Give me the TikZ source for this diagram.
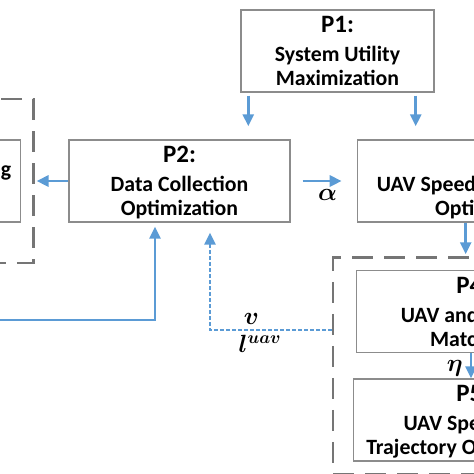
\documentclass[tikz,border=0pt]{standalone}
\usepackage{amsmath}
\usepackage{fontspec}
\setmainfont{Carlito}
\usetikzlibrary{arrows.meta, positioning, fit}

\definecolor{flowblue}{HTML}{5B9BD5}
\definecolor{boxgray}{HTML}{8C8C8C}
\definecolor{groupgray}{HTML}{757575}

\begin{document}
\begin{tikzpicture}[
            x = 1pt, y = -1pt, % pixel-like coordinates
            > = {Triangle[length=12pt, width=11pt]}, % arrow head style
            node distance = 48pt,
            line join = miter
        ]

        \tikzstyle{probbox}=[
            draw = boxgray,
            line width = 1.4pt,
            fill = white,
            align = center,
            minimum height = 82pt,
            text depth = 0pt,
            inner sep = 0pt,
            font = \fontsize{21.8}{24}\selectfont\bfseries
        ]
        \tikzstyle{dashgroup}=[
            draw = groupgray,
            line width = 2.5pt,
            dash pattern = on 21pt off 11pt,
            inner sep = 0pt
        ]
        \tikzstyle{flow}=[->, draw = flowblue, line width = 2.7pt]
        \tikzstyle{fbflow}=[flow, dash pattern = on 3.5pt off 2.5pt]
        \tikzstyle{varlabel}=[font = \fontsize{24}{24}\selectfont, inner sep = 2pt]

        \newcommand{\ptitle}[1]{{\fontsize{25}{25}\selectfont #1}\\[5pt]}

        % problem boxes
        \useasboundingbox (0,0) rectangle (474,474);
        \node[probbox, minimum width = 221pt] (P2) at (179.5,181)
            {\ptitle{P2:}Data Collection\\Optimization};
        \node[probbox, minimum width = 183pt] (L) [left = 47pt of P2]
            {Sensor Scheduling\\Optimization};
        \node[probbox, minimum width = 273pt] (P3) [right = 66pt of P2]
            {\ptitle{P3:}UAV Speed and Trajectory\\Optimization};
        \node[probbox, minimum width = 193pt] (P1) at (337.5,51)
            {\ptitle{P1:}System Utility\\Maximization};
        \node[probbox, minimum width = 232pt, anchor = north west] (P4) at (356,270)
            {\ptitle{P4:}UAV and Sensor\\Matching};
        \node[probbox, minimum width = 238pt] (P5) [below = 25pt of P4]
            {\ptitle{P5:}UAV Speed and\\Trajectory Optimization};

        % dashed groups
        \node[dashgroup, fit = (L), inner xsep = 12pt, inner ysep = 40.5pt] (G1) {};
        \node[dashgroup, fit = (P4) (P5), inner xsep = 20pt, inner ysep = 12.5pt] (G2) {};

        \coordinate (fin) at (-10,320);
        \coordinate (turn) at (155,320);
        \coordinate (vin) at (210,330);

        % connectors
        \draw[flow, shorten < = 3pt, shorten > = 13pt]
            ([xshift=8pt]P1.south west) -- ([xshift=8pt]P1.south west |- P2.north);
        \draw[flow, shorten < = 3pt, shorten > = 13pt]
            ([xshift=-19pt]P1.south east) -- ([xshift=-19pt]P1.south east |- P3.north);
        \draw[flow, shorten > = 2pt] (P2.west) -- (P2.west -| G1.east);
        \draw[flow, shorten < = 12pt, shorten > = 15pt] (P2.east) -- (P3.west)
            node[varlabel, below = 5pt, pos = 0.56] {$\boldsymbol{\alpha}$};
        \draw[flow, shorten > = 2pt]
            ([xshift=109pt]P3.south west) -- ([xshift=109pt]P3.south west |- G2.north);
        \draw[flow] ([xshift=115pt]P4.south west) -- ([xshift=115pt]P4.south west |- P5.north)
            node[varlabel, left = 5pt, pos = 0.6] {$\boldsymbol{\eta}$};
        \draw[flow, shorten > = 4pt] (fin) -- (turn) -- (turn |- P2.south);
        \draw[fbflow, shorten > = 10pt] (G2.west |- vin) -- (vin)
            node[varlabel, above = 2pt, pos = 0.66] {$\boldsymbol{v}$}
            node[varlabel, below = 2pt, pos = 0.59] {$\boldsymbol{l^{uav}}$}
            -- (vin |- P2.south);

    \end{tikzpicture}
\end{document}
